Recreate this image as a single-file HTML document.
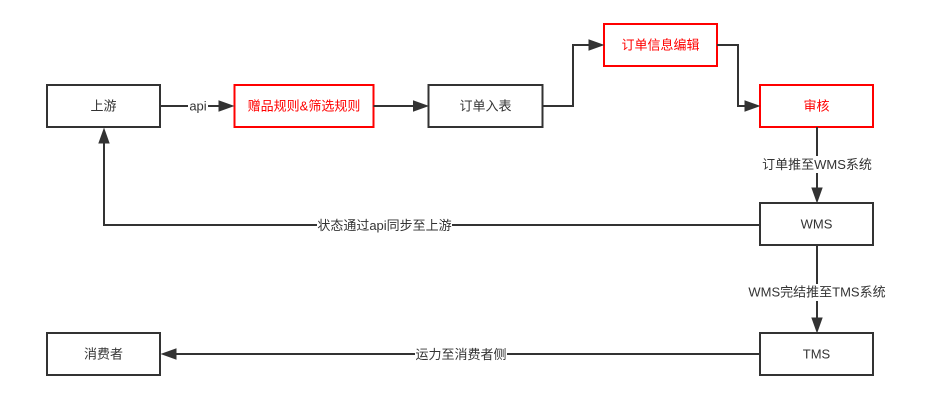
<!DOCTYPE html>
<html><head><meta charset="utf-8"><style>
html,body{margin:0;padding:0;background:#fff;}
svg{display:block;}
text{font-family:"Liberation Sans","Noto Sans CJK SC",sans-serif;font-size:13px;fill:#333;}
.r{fill:#f00;}
</style></head><body>
<svg width="938" height="407" viewBox="0 0 938 407" xmlns="http://www.w3.org/2000/svg">
<g fill="#fff" stroke-width="2">
<rect x="47" y="85" width="113" height="42" stroke="#333"/>
<rect x="234.5" y="85" width="139" height="42" stroke="#f00"/>
<rect x="428.5" y="85" width="114" height="42" stroke="#333"/>
<rect x="604" y="24" width="113" height="42" stroke="#f00"/>
<rect x="760" y="85" width="113" height="42" stroke="#f00"/>
<rect x="760" y="203" width="113" height="42" stroke="#333"/>
<rect x="760" y="333" width="113" height="42" stroke="#333"/>
<rect x="47" y="333" width="113" height="42" stroke="#333"/>
</g>
<g fill="none" stroke="#333" stroke-width="2">
<path d="M160 106 H220"/>
<path d="M373.5 106 H414"/>
<path d="M542.5 106 H573 V45 H590"/>
<path d="M717 45 H738 V106 H746"/>
<path d="M817 127 V188"/>
<path d="M817 245 V318"/>
<path d="M760 225 H104 V143"/>
<path d="M760 354 H176"/>
</g>
<g fill="#333" stroke="#333" stroke-width="1">
<path d="M233 106 L219 101 L219 111 Z"/>
<path d="M427.5 106 L413.5 101 L413.5 111 Z"/>
<path d="M603 45 L589 40 L589 50 Z"/>
<path d="M759 106 L745 101 L745 111 Z"/>
<path d="M817 202 L812 188 L822 188 Z"/>
<path d="M817 332 L812 318 L822 318 Z"/>
<path d="M104 129 L99 143 L109 143 Z"/>
<path d="M162 354 L176 349 L176 359 Z"/>
</g>
<g fill="#fff">
<rect x="188" y="98" width="20" height="16"/>
<rect x="762" y="156" width="111" height="17"/>
<rect x="748" y="284" width="139" height="17"/>
<rect x="317" y="217" width="135" height="17"/>
<rect x="415" y="346" width="92" height="17"/>
</g>
<g text-anchor="middle" dominant-baseline="central">
<text x="103.5" y="106">上游</text>
<text x="198" y="106">api</text>
<text class="r" x="304" y="106">赠品规则&amp;筛选规则</text>
<text x="485.5" y="106">订单入表</text>
<text class="r" x="660.5" y="45">订单信息编辑</text>
<text class="r" x="816.5" y="106">审核</text>
<text x="817" y="164.5">订单推至WMS系统</text>
<text x="816.5" y="224">WMS</text>
<text x="817" y="292">WMS完结推至TMS系统</text>
<text x="816.5" y="354">TMS</text>
<text x="384.5" y="225.5">状态通过api同步至上游</text>
<text x="461" y="354.5">运力至消费者侧</text>
<text x="103.5" y="354">消费者</text>
</g>
</svg>
</body></html>
